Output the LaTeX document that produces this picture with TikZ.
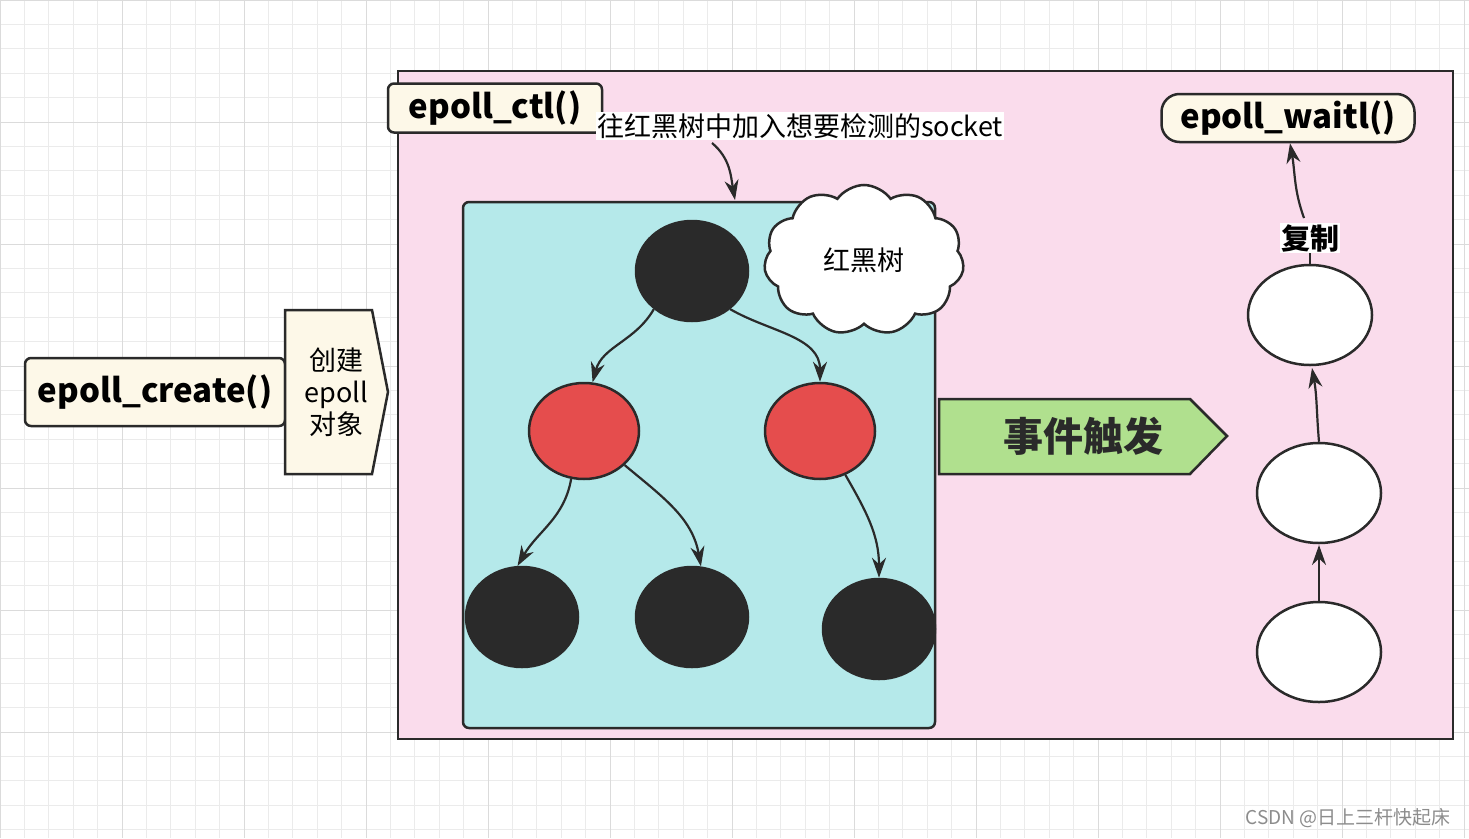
\documentclass[tikz,border=0pt]{standalone}
\usepackage{fontspec}
\setmainfont{Noto Sans CJK SC}
\usetikzlibrary{shapes.symbols,shapes.geometric,arrows.meta}
\definecolor{pinkbg}{HTML}{FADCEC}
\definecolor{cyanbg}{HTML}{B5E9EA}
\definecolor{cream}{HTML}{FDF8E8}
\definecolor{redn}{HTML}{E54D4D}
\definecolor{greenar}{HTML}{B0E08E}
\definecolor{dk}{HTML}{2A2A2A}
\tikzset{
  ln/.style={draw=dk,line width=2.5pt},
  lbl/.style={ln,rounded corners=6pt,fill=cream,font=\bfseries\fontsize{33}{36}\selectfont},
  blk/.style={ln,ellipse,fill=dk,minimum width=112pt,minimum height=100pt,inner sep=0},
  rdn/.style={ln,ellipse,fill=redn,minimum width=110pt,minimum height=96pt,inner sep=0},
  wht/.style={ln,ellipse,fill=white,minimum width=124pt,minimum height=100pt,inner sep=0},
  ar/.style={draw=dk,line width=2.2pt,-{Stealth[length=20pt,width=14pt]}}
}
\begin{document}
\begin{tikzpicture}[x=1pt,y=-1pt]
\useasboundingbox (0,0) rectangle (1469,838);
\fill[white] (0,0) rectangle (1469,838);
\foreach \i in {0,...,60} {
  \draw[black!8,line width=0.8pt] (\i*24.4,0) -- (\i*24.4,838);
  \draw[black!8,line width=0.8pt] (0,\i*24.4) -- (1469,\i*24.4);
}
\foreach \i in {0,...,12} {
  \draw[black!14,line width=1pt] (\i*122,0) -- (\i*122,838);
  \draw[black!14,line width=1pt] (0,\i*122) -- (1469,\i*122);
}
\draw[ln,fill=pinkbg] (398,71) rectangle (1453,739);
\draw[ln,fill=cyanbg,rounded corners=6pt] (463,202) rectangle (935,728);
\node[lbl,minimum width=214pt,minimum height=49pt] (ctl) at (495,108) {epoll\_ctl()};
\node[fill=white,inner sep=1pt,font=\fontsize{27}{30}\selectfont] (ctltext) at (800,126) {往红黑树中加入想要检测的socket};
\node[cloud,ln,fill=white,cloud puffs=11,cloud puff arc=110,aspect=1.3,minimum width=200pt,minimum height=150pt,font=\fontsize{27}{30}\selectfont] (cloud) at (864,260) {红黑树};
\node[blk] (n1) at (692,271) {};
\node[rdn] (n2) at (584,431) {};
\node[rdn] (n3) at (820,431) {};
\node[blk] (n4) at (522,617) {};
\node[blk] (n5) at (692,617) {};
\node[blk] (n6) at (879,629) {};
\coordinate (c1) at (712,143);
\draw[ar] (c1) to[out=-40,in=100] (735,200);
\draw[ar] (n1.225) to[out=-120,in=75] (n2.80);
\draw[ar] (n1.315) to[out=-30,in=90] (n3.90);
\draw[ar] (n2.255) to[out=-100,in=60] (n4.95);
\draw[ar] (n2.320) to[out=-40,in=100] (n5.80);
\draw[ar] (n3.300) to[out=-60,in=90] (n6.90);
\node[lbl,minimum width=260pt,minimum height=68pt] (create) at (155,392) {epoll\_create()};
\draw[ln,fill=cream] (285,310) -- (372,310) -- (388,392) -- (372,474) -- (285,474) -- cycle;
\node[align=center,font=\fontsize{27}{32}\selectfont] (obj) at (336,392) {创建\\epoll\\对象};
\draw[ln,fill=greenar] (939,399) -- (1190,399) -- (1227,436) -- (1190,474) -- (939,474) -- cycle;
\node[font=\bfseries\fontsize{40}{44}\selectfont,text=dk] (evt) at (1083,436) {事件触发};
\node[wht] (w1) at (1310,315) {};
\node[wht] (w2) at (1319,493) {};
\node[wht] (w3) at (1319,652) {};
\node[lbl,rounded corners=18pt,minimum width=253pt,minimum height=48pt] (wait) at (1288,118) {epoll\_waitl()};
\draw[ar] (w3.north) to[out=90,in=-90] (w2.north |- 0,545);
\draw[ar] (w2.north) to[out=95,in=-80] (1312,368);
\node[fill=white,inner sep=1pt,font=\bfseries\fontsize{29}{32}\selectfont] (copy) at (1310,238) {复制};
\draw[draw=dk,line width=2.2pt] (w1.north) -- (copy.south);
\draw[ar] (1304,218) to[out=110,in=-80] (wait.south -| 1290,0);
\node[text=black!45,font=\fontsize{19}{21}\selectfont] (wm) at (1348,818) {CSDN @日上三杆快起床};
\end{tikzpicture}
\end{document}
